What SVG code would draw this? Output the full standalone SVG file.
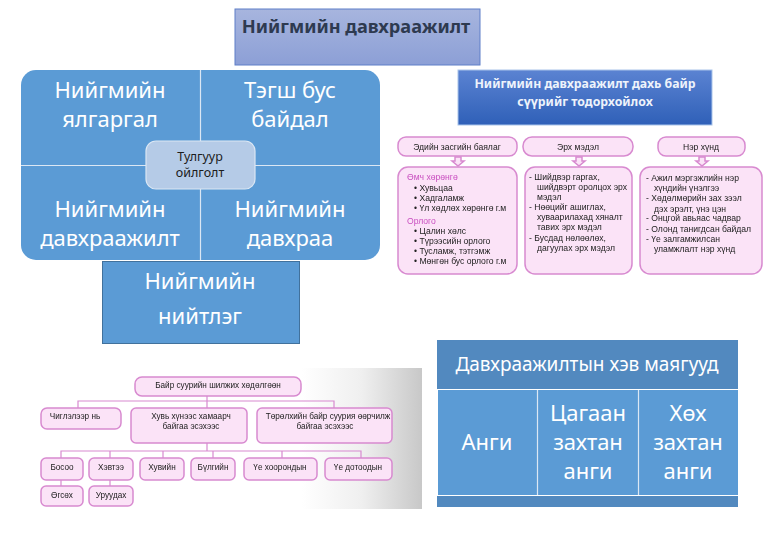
<svg xmlns="http://www.w3.org/2000/svg" width="768" height="543" viewBox="0 0 768 543">
<style>
text{font-family:"Noto Sans","Open Sans","DejaVu Sans",sans-serif;text-anchor:middle}
.w{fill:#fff;font-size:22px}
.p{fill:#fbe3f7;stroke:#d88ad0;stroke-width:1.5}
.s{font-family:"Liberation Sans",Arial,sans-serif;font-size:8.6px;fill:#222}
.l{text-anchor:start}
.m{fill:#c94fc0}
.o{font-family:"Liberation Sans",Arial,sans-serif;font-size:8.2px;fill:#222}
.c{fill:none;stroke:#d88ad0;stroke-width:1.2}
.sep{stroke:#dbe7f4;stroke-width:1.2;fill:none}
</style>
<defs>
<linearGradient id="gTitle" x1="0" y1="0" x2="0" y2="1"><stop offset="0" stop-color="#a7b5de"/><stop offset="1" stop-color="#8c9fd6"/></linearGradient>
<linearGradient id="gHead" x1="0" y1="0" x2="0" y2="1"><stop offset="0" stop-color="#5b83d2"/><stop offset="1" stop-color="#2f60b8"/></linearGradient>
<linearGradient id="gBack" x1="0" y1="0" x2="1" y2="0"><stop offset="0" stop-color="#fff"/><stop offset="0.7" stop-color="#fff"/><stop offset="0.85" stop-color="#efefef"/><stop offset="1" stop-color="#c8c8c8"/></linearGradient>
<filter id="soft" x="-5%" y="-5%" width="110%" height="110%"><feGaussianBlur stdDeviation="0.35"/></filter>
</defs>
<rect width="768" height="543" fill="#fff"/>

<g id="title">
<rect x="235" y="9" width="245" height="56" fill="url(#gTitle)" stroke="#5f7fc8" stroke-width="1"/>
<text x="356" y="33" style="font-size:18.2px;font-weight:700;fill:#2e3a50">Нийгмийн давхраажилт</text>
</g>

<g id="quad">
<rect x="21" y="70" width="359" height="190" rx="15" fill="#5b9bd5"/>
<path class="sep" d="M200.500 70V260M21 165.500H380"/>
<text class="w" x="110" y="98">Нийгмийн</text>
<text class="w" x="110" y="127">ялгаргал</text>
<text class="w" x="290" y="98">Тэгш бус</text>
<text class="w" x="290" y="127">байдал</text>
<text class="w" x="110" y="217">Нийгмийн</text>
<text class="w" x="110" y="246">давхраажилт</text>
<text class="w" x="290" y="217">Нийгмийн</text>
<text class="w" x="290" y="246">давхраа</text>
</g>
<g id="center">
<rect x="146" y="141" width="109" height="48" rx="10" fill="#b5cbe7" stroke="#dbe7f4" stroke-width="1.2"/>
<text x="200" y="161" style="font-size:12.500px;fill:#1c1c1c">Тулгуур</text>
<text x="200" y="177" style="font-size:12.500px;fill:#1c1c1c">ойлголт</text>
</g>
<g id="nitleg">
<rect x="102.500" y="261.500" width="197" height="82" fill="#5b9bd5" stroke="#41719c"/>
<text class="w" x="200" y="289">Нийгмийн</text>
<text class="w" x="200" y="324">нийтлэг</text>
</g>

<g id="header">
<rect x="458" y="70" width="254" height="55" fill="url(#gHead)" stroke="#a9c4ea"/>
<text x="585" y="88" style="font-size:12.300px;font-weight:700;fill:#eef3fb">Нийгмийн давхраажилт дахь байр</text>
<text x="585" y="106" style="font-size:12.300px;font-weight:700;fill:#eef3fb">сүүрийг тодорхойлох</text>
</g>

<g filter="url(#soft)">
<g id="wealth">
<rect class="p" x="398" y="137" width="119" height="19" rx="8"/>
<text class="s" x="457" y="150">Эдийн засгийн баялаг</text>
<path class="p" d="M455 157h6v4h3l-6 5-6-5h3z"/>
<rect class="p" x="398" y="167" width="119" height="107" rx="10"/>
<text class="s l m" x="407" y="180">Өмч хөрөнгө</text>
<text class="s l" x="414" y="191">•  Хувьцаа</text>
<text class="s l" x="414" y="201">•  Хадгаламж</text>
<text class="s l" x="414" y="211">•  Үл хөдлөх хөрөнгө г.м</text>
<text class="s l m" x="407" y="224">Орлого</text>
<text class="s l" x="414" y="234">•  Цалин хөлс</text>
<text class="s l" x="414" y="244">•  Түрээсийн орлого</text>
<text class="s l" x="414" y="254">•  Тусламж, тэтгэмж</text>
<text class="s l" x="414" y="264">•  Мөнгөн бус орлого г.м</text>
</g>
<g id="power">
<rect class="p" x="523" y="137" width="110" height="19" rx="9"/>
<text class="s" x="578" y="150">Эрх мэдэл</text>
<path class="p" d="M576 157h6v4h3l-6 5-6-5h3z"/>
<rect class="p" x="525" y="167" width="107" height="107" rx="10"/>
<text class="s l" x="529" y="180">-  Шийдвэр гаргах,</text>
<text class="s l" x="537" y="190">шийдвэрт оролцох эрх</text>
<text class="s l" x="537" y="200">мэдэл</text>
<text class="s l" x="529" y="210">-  Нөөцийг ашиглах,</text>
<text class="s l" x="537" y="220">хуваарилахад хяналт</text>
<text class="s l" x="537" y="230">тавих эрх мэдэл</text>
<text class="s l" x="529" y="241">-  Бусдад нөлөөлөх,</text>
<text class="s l" x="537" y="251">дагуулах эрх мэдэл</text>
</g>
<g id="honor">
<rect class="p" x="658" y="137" width="87" height="19" rx="8"/>
<text class="s" x="701" y="150">Нэр хүнд</text>
<path class="p" d="M699 157h6v4h3l-6 5-6-5h3z"/>
<rect class="p" x="640" y="167" width="122" height="107" rx="10"/>
<text class="s l" x="646" y="181">-  Ажил мэргэжлийн нэр</text>
<text class="s l" x="654" y="191">хүндийн үнэлгээ</text>
<text class="s l" x="646" y="201">-  Хөдөлмөрийн зах зээл</text>
<text class="s l" x="654" y="212">дэх эрэлт, үнэ цэн</text>
<text class="s l" x="646" y="221">-  Онцгой авьяас чадвар</text>
<text class="s l" x="646" y="232">-  Олонд танигдсан байдал</text>
<text class="s l" x="646" y="242">-  Үе залгамжилсан</text>
<text class="s l" x="654" y="252">уламжлалт нэр хүнд</text>
</g>
</g>

<rect x="22" y="368" width="400" height="141" fill="url(#gBack)"/>
<g filter="url(#soft)">
<g id="connectors">
<path class="c" d="M207 396V401M78 408V401H334V408M207 401V408M207 443V451M61 458V451H361V458M110 451V458M163 451V458M213 451V458M282 451V458M61 480V486M110 480V486"/>
</g>
<g id="n-analysis"><rect class="p" x="135" y="377" width="166" height="19" rx="7"/><text class="o" x="218" y="388">Байр суурийн шилжих хөдөлгөөн</text></g>
<g id="n-direction"><rect class="p" x="41" y="408" width="80" height="21" rx="6"/><text class="o" x="75" y="419">Чиглэлээр нь</text></g>
<g id="n-personal"><rect class="p" x="131" y="408" width="116" height="35" rx="5"/><text class="o" x="191" y="419">Хувь хүнээс хамаарч</text><text class="o" x="191" y="429">байгаа эсэхээс</text></g>
<g id="n-native"><rect class="p" x="257" y="408" width="135" height="35" rx="5"/><text class="o" x="328" y="419">Төрөлхийн байр суурия өөрчилж</text><text class="o" x="325" y="429">байгаа эсэхээс</text></g>
<g id="n-vertical"><rect class="p" x="41" y="458" width="42" height="22" rx="5"/><text class="o" x="62" y="470">Босоо</text></g>
<g id="n-horizontal"><rect class="p" x="89" y="458" width="44" height="22" rx="5"/><text class="o" x="111" y="470">Хэвтээ</text></g>
<g id="n-individual"><rect class="p" x="140" y="458" width="44" height="22" rx="5"/><text class="o" x="162" y="470">Хувийн</text></g>
<g id="n-group"><rect class="p" x="191" y="458" width="44" height="22" rx="5"/><text class="o" x="213" y="470">Бүлгийн</text></g>
<g id="n-inter"><rect class="p" x="244" y="458" width="73" height="22" rx="5"/><text class="o" x="280" y="470">Үе хоорондын</text></g>
<g id="n-intra"><rect class="p" x="325" y="458" width="67" height="22" rx="5"/><text class="o" x="358" y="470">Үе дотоодын</text></g>
<g id="n-up"><rect class="p" x="41" y="486" width="42" height="20" rx="5"/><text class="o" x="62" y="498">Өгсөх</text></g>
<g id="n-down"><rect class="p" x="89" y="486" width="44" height="20" rx="5"/><text class="o" x="111" y="498">Уруудах</text></g>
</g>

<g id="table">
<rect x="437" y="340" width="301" height="49" fill="#5289bf"/>
<rect x="438" y="390" width="300" height="105" fill="#5b9bd5"/>
<rect x="437" y="496" width="301" height="11" fill="#5289bf"/>
<path class="sep" d="M537.500 390V495M638.500 390V495"/>
<text class="w" x="587" y="371" style="font-size:19px">Давхраажилтын хэв маягууд</text>
<text class="w" x="487" y="450">Анги</text>
<text class="w" x="588" y="421">Цагаан</text>
<text class="w" x="588" y="450">захтан</text>
<text class="w" x="588" y="479">анги</text>
<text class="w" x="688" y="421">Хөх</text>
<text class="w" x="688" y="450">захтан</text>
<text class="w" x="688" y="479">анги</text>
</g>
</svg>
